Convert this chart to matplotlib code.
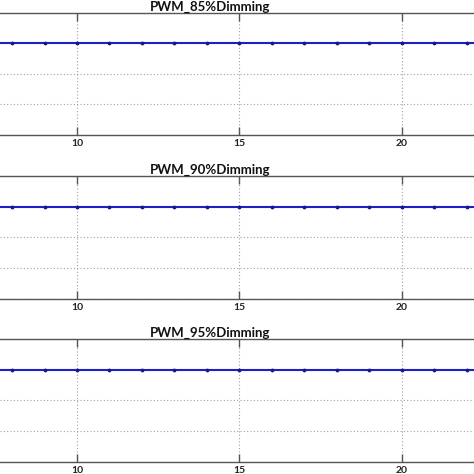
import matplotlib
matplotlib.use("Agg")
import matplotlib.pyplot as plt

# samples (one per unit step), flat output in every dimming case
x_vals = [1, 2, 3, 4, 5, 6, 7, 8, 9, 10, 11, 12, 13, 14, 15,
          16, 17, 18, 19, 20, 21, 22, 23, 24, 25]
titles = ["PWM_85%Dimming", "PWM_90%Dimming", "PWM_95%Dimming"]
levels = {
    "PWM_85%Dimming": [3] * 25,
    "PWM_90%Dimming": [3] * 25,
    "PWM_95%Dimming": [3] * 25,
}
x_ticks = [10, 15, 20]
y_ticks = [0, 1, 2, 3, 4]

fig = plt.figure(figsize=(4.74, 4.74), dpi=100)
# axes wider than the figure: the picture is a crop of a bigger plot
rects = [
    [0.0, 0.715, 1.0, 0.2585],
    [0.0, 0.370, 1.0, 0.2585],
    [0.0, 0.026, 1.0, 0.2585],
]
for rect, name in zip(rects, titles):
    ax = fig.add_axes(rect)
    ax.plot(x_vals, levels[name], color="#1f1fc8", lw=1.5,
            marker=".", ms=3.5, mfc="#1a1a80", mec="#1a1a80")
    ax.set_xlim(7.63, 22.22)
    ax.set_ylim(0, 4)
    ax.set_xticks(x_ticks)
    ax.set_yticks(y_ticks)
    ax.grid(True, ls=(0, (1, 2)), color="#a0a0a0", lw=0.8)
    ax.tick_params(axis="x", direction="in", length=6, width=1,
                   colors="#555555", top=True, labelsize=7.5, pad=3,
                   labelcolor="#222222")
    ax.tick_params(axis="y", left=False, right=False, labelleft=False)
    for lab in ax.get_xticklabels():
        lab.set_family(["Lato", "DejaVu Sans"])
        lab.set_fontweight("bold")
    ax.spines["left"].set_visible(False)
    ax.spines["right"].set_visible(False)
    for s in ("top", "bottom"):
        ax.spines[s].set_color("#555555")
        ax.spines[s].set_linewidth(1.0)
    ax.set_title(name, family=["Lato", "DejaVu Sans"], fontweight="bold",
                 fontsize=9.5, pad=1.5, color="#111111", x=0.443)

fig.savefig("out.png", dpi=100)
